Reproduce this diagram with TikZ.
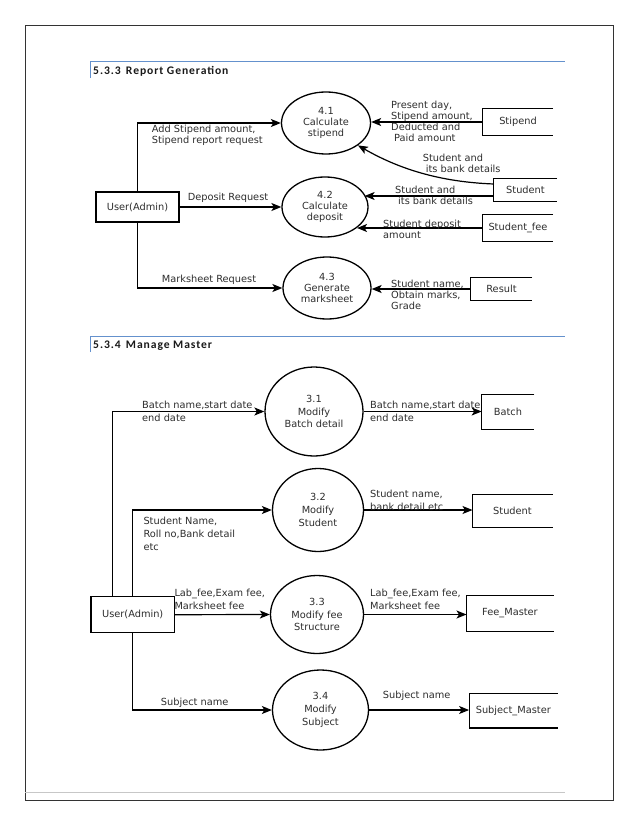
\documentclass[tikz,border=0pt]{standalone}
\usepackage{fontspec}
\usetikzlibrary{shapes.geometric,arrows.meta,calc}
\newfontfamily\djv{DejaVu Sans}
\newfontfamily\hdrfont[LetterSpace=8]{Carlito}
\definecolor{hdrblue}{RGB}{100,145,205}
\definecolor{txt}{RGB}{45,45,45}
\tikzset{
  dfdtext/.style={font=\djv\fontsize{9.8}{11}\selectfont, text=txt},
  lbl/.style={dfdtext, inner sep=0pt, align=left},
  lblb/.style={lbl, font=\djv\fontsize{9.8}{13}\selectfont},
  proc/.style={ellipse, draw, line width=1.3pt, inner sep=0pt, dfdtext, align=center},
  procb/.style={proc, font=\djv\fontsize{9.8}{12.8}\selectfont},
  entity/.style={draw, line width=1.2pt, inner sep=0pt, dfdtext},
  store/.style={inner sep=0pt, dfdtext},
  storeline/.style={line width=1.2pt},
  flow/.style={line width=1.2pt, -{Stealth[length=10pt,width=8pt,inset=2.5pt]}},
  hdrline/.style={hdrblue, line width=0.9pt},
  hdrtext/.style={font=\hdrfont\bfseries\fontsize{11.6}{13}\selectfont, text=black!90, inner sep=0pt, anchor=west}
}
\begin{document}
\begin{tikzpicture}[x=1pt,y=-1pt]
\useasboundingbox (0,0) rectangle (638,826);
% page frame and footer rule
\draw[black!80, line width=0.9pt] (25,25) rectangle (613,800);
\draw[black!22, line width=0.8pt] (25,792) -- (565,792);

% ---------- 5.3.3 Report Generation ----------
\draw[hdrline] (90,78) -- (90,61.7) -- (565,61.7);
\node[hdrtext] (hA) at (93,71) {5.3.3\hspace{0.45em}Report Generation};

\node[entity, minimum width=83pt, minimum height=30pt] (user1) at (137.5,207) {User(Admin)};
\node[proc, minimum width=89pt, minimum height=62pt] (c41) at (326,123) {4.1\\Calculate\\stipend};
\node[proc, minimum width=86pt, minimum height=60pt] (c42) at (325,207) {4.2\\Calculate\\deposit};
\node[proc, minimum width=88pt, minimum height=62pt] (c43) at (327,288) {4.3\\Generate\\marksheet};

\node[store, minimum width=70pt, minimum height=27pt] (stipend) at (518,122) {Stipend};
\node[store, minimum width=63pt, minimum height=22pt] (student1) at (525.5,190) {Student};
\node[store, minimum width=70pt, minimum height=26pt] (sfee) at (518,228) {Student\_fee};
\node[store, minimum width=61pt, minimum height=22pt] (result) at (501.5,289) {Result};

\foreach \n in {stipend,student1,sfee,result}
  \draw[storeline] (\n.north east) -- (\n.north west) -- (\n.south west) -- (\n.south east);

\draw[flow] (user1.north) |- (c41.west);
\draw[flow] (user1.east) -- (c42.west);
\draw[flow] (user1.south) |- (c43.west);

\draw[flow] (stipend.west) -- (c41.east |- stipend.west);
\coordinate (s1a) at ([yshift=6pt]student1.west);
\coordinate (s1b) at ([yshift=-6pt]student1.west);
\draw[flow] (s1a) .. controls (440,182) and (399,169) .. (c41.-35);
\draw[flow] (s1b) -- (c42.18 |- s1b);
\draw[flow] (sfee.west) -- (c42.-33 |- sfee.west);
\draw[flow] (result.west) -- (c43.east |- result.west);

\node[lbl, anchor=west] (l1) at (151.7,135.5) {Add Stipend amount,\\Stipend report request};
\node[lbl] (l2) at (228,198) {Deposit Request};
\node[lbl] (l3) at (209,280) {Marksheet Request};
\node[lbl, anchor=west] (l4) at (391,121.5) {Present day,\\Stipend amount,\\Deducted and\\\hspace{3pt}Paid amount};
\node[lbl, anchor=west] (l5) at (422.7,163.3) {Student and\\\hspace{3pt}its bank details};
\node[lbl, anchor=west] (l6) at (395,195) {Student and\\\hspace{3pt}its bank details};
\node[lbl, anchor=west] (l7) at (383,229.5) {Student deposit\\amount};
\node[lbl, anchor=west] (l8) at (391,294.7) {Student name,\\Obtain marks,\\Grade};

% ---------- 5.3.4 Manage Master ----------
\draw[hdrline] (90,352) -- (90,336.7) -- (565,336.7);
\node[hdrtext] (hB) at (93,346) {5.3.4\hspace{0.45em}Manage Master};

\node[entity, minimum width=83.3pt, minimum height=36pt] (user2) at (132.7,614.7) {User(Admin)};
\node[procb, minimum width=98pt, minimum height=89pt] (c31) at (314,411.5) {3.1\\Modify\\Batch detail};
\node[procb, minimum width=91pt, minimum height=83pt] (c32) at (318,510) {3.2\\Modify\\Student};
\node[procb, minimum width=93pt, minimum height=78pt] (c33) at (317,614.5) {3.3\\Modify fee\\Structure};
\node[procb, minimum width=96pt, minimum height=80pt] (c34) at (320.5,710) {3.4\\Modify\\Subject};

\node[store, minimum width=52.3pt, minimum height=34.3pt] (batch) at (508,412) {Batch};
\node[store, minimum width=79.6pt, minimum height=32.3pt] (student2) at (512.5,511) {Student};
\node[store, minimum width=86.6pt, minimum height=35pt] (feem) at (510,613.5) {Fee\_Master};
\node[store, minimum width=88pt, minimum height=34.4pt] (subm) at (513.3,710.5) {Subject\_Master};

\foreach \n in {batch,student2,feem,subm}
  \draw[storeline] (\n.north east) -- (\n.north west) -- (\n.south west) -- (\n.south east);

\draw[flow] ([xshift=-20.4pt]user2.north) |- (c31.west);
\draw[flow] (user2.north) |- (c32.west);
\draw[flow] (user2.east) -- (c33.west);
\draw[flow] (user2.south) |- (c34.west);

\draw[flow] (c31.east) -- (c31.east -| batch.west);
\draw[flow] (c32.east) -- (c32.east -| student2.west);
\draw[flow] (c33.east) -- (c33.east -| feem.west);
\draw[flow] (c34.east) -- (c34.east -| subm.west);

\node[lblb, anchor=west] (m1) at (142,411.7) {Batch name,start date\\end date};
\node[lblb, anchor=west] (m2) at (370,411) {Batch name,start date\\end date};
\node[lblb, anchor=west] (m3) at (143.3,533.7) {Student Name,\\Roll no,Bank detail\\etc};
\node[lblb, anchor=west] (m4) at (370,500.4) {Student name,\\bank detail etc};
\node[lblb, anchor=west] (m5) at (174.3,599.7) {Lab\_fee,Exam fee,\\Marksheet fee};
\node[lblb, anchor=west] (m6) at (370,599.5) {Lab\_fee,Exam fee,\\Marksheet fee};
\node[lbl] (m7) at (194.7,702.3) {Subject name};
\node[lbl] (m8) at (416.7,696) {Subject name};
\end{tikzpicture}
\end{document}
